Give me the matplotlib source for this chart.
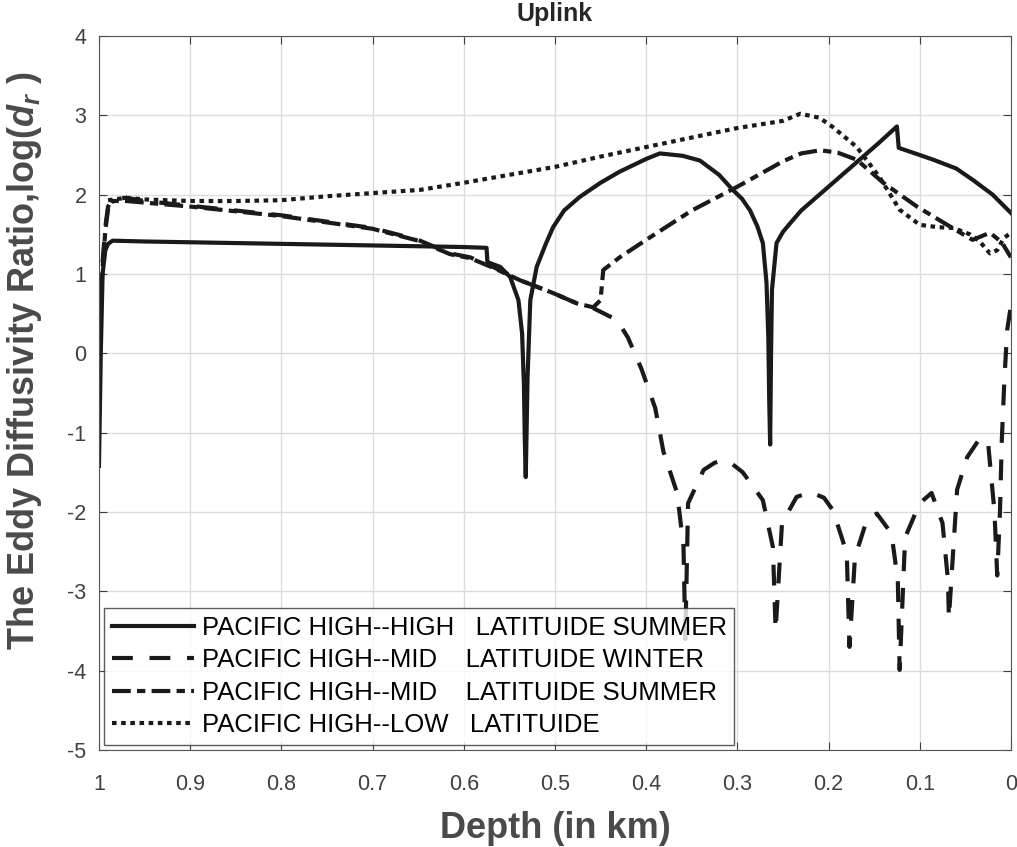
import matplotlib
matplotlib.use("Agg")
import matplotlib.pyplot as plt

plt.rcParams['font.family'] = ['Liberation Sans', 'DejaVu Sans']
plt.rcParams['mathtext.fontset'] = 'custom'
plt.rcParams['mathtext.it'] = 'Liberation Sans:bold:italic'
plt.rcParams['mathtext.rm'] = 'Liberation Sans:bold'
plt.rcParams['axes.unicode_minus'] = False

# PACIFIC HIGH--HIGH LATITUIDE SUMMER (solid)
hh_x = [1.0, 0.998, 0.996, 0.993, 0.99, 0.985, 0.95, 0.9, 0.8, 0.7, 0.6, 0.575,
        0.574, 0.56, 0.549, 0.54, 0.536, 0.534, 0.533, 0.532, 0.530, 0.527, 0.52,
        0.51, 0.502, 0.49, 0.473, 0.45, 0.429, 0.4, 0.385, 0.36, 0.341, 0.32,
        0.305, 0.295, 0.286, 0.278, 0.272, 0.268, 0.266, 0.265, 0.264, 0.263,
        0.262, 0.257, 0.25, 0.242, 0.23, 0.213, 0.19, 0.166, 0.145, 0.125,
        0.123, 0.1, 0.085, 0.06, 0.041, 0.02, 0.0]
hh_y = [-1.42, 0.0, 1.0, 1.3, 1.38, 1.42, 1.41, 1.40, 1.38, 1.36, 1.34, 1.33,
        1.15, 1.09, 0.96, 0.67, 0.25, -0.4, -1.1, -1.56, -0.3, 0.67, 1.09,
        1.38, 1.59, 1.8, 1.97, 2.15, 2.29, 2.45, 2.52, 2.49, 2.43, 2.25,
        2.06, 1.95, 1.8, 1.6, 1.39, 0.89, 0.2, -0.6, -1.15, 0.0,
        0.8, 1.39, 1.53, 1.64, 1.8, 1.97, 2.2, 2.44, 2.65, 2.86,
        2.59, 2.5, 2.44, 2.33, 2.18, 2.0, 1.77]

# PACIFIC HIGH--MID LATITUIDE WINTER (dashed)
mw_x = [1.0, 0.997, 0.993, 0.99, 0.985, 0.97, 0.95, 0.9, 0.8, 0.7, 0.65, 0.615,
        0.593, 0.568, 0.538, 0.502, 0.476, 0.458, 0.432, 0.42, 0.405, 0.39,
        0.381, 0.366, 0.359, 0.357, 0.354, 0.337, 0.325, 0.316, 0.305, 0.294,
        0.272, 0.261, 0.258, 0.251, 0.235, 0.22, 0.205, 0.195, 0.18, 0.177,
        0.171, 0.158, 0.147, 0.131, 0.124, 0.122, 0.116, 0.1, 0.087, 0.075,
        0.069, 0.068, 0.059, 0.048, 0.034, 0.025, 0.018, 0.015, 0.012, 0.01,
        0.007, 0.004, 0.0]
mw_y = [0.2, 1.0, 1.6, 1.85, 1.95, 1.96, 1.92, 1.86, 1.74, 1.58, 1.43, 1.26,
        1.21, 1.09, 0.92, 0.76, 0.63, 0.57, 0.42, 0.2, -0.2, -0.69,
        -1.24, -1.76, -2.44, -3.6, -1.89, -1.47, -1.38, -1.35, -1.4, -1.5,
        -1.85, -2.44, -3.49, -2.14, -1.81, -1.75, -1.82, -1.98, -2.52, -3.7,
        -2.57, -2.1, -2.02, -2.27, -2.86, -3.99, -2.32, -1.89, -1.76, -2.14,
        -2.86, -3.34, -1.72, -1.31, -1.07, -1.13, -2.0, -2.8, -2.0, -1.1,
        -0.3, 0.3, 0.6]

# PACIFIC HIGH--MID LATITUIDE SUMMER (dash-dot)
ms_x = [1.0, 0.997, 0.993, 0.99, 0.985, 0.97, 0.95, 0.9, 0.8, 0.7, 0.65, 0.615,
        0.593, 0.568, 0.538, 0.502, 0.476, 0.458, 0.45, 0.447, 0.429, 0.4,
        0.35, 0.3, 0.25, 0.23, 0.209, 0.19, 0.169, 0.14, 0.103, 0.067, 0.042,
        0.023, 0.01, 0.0]
ms_y = [0.1, 0.9, 1.55, 1.82, 1.92, 1.92, 1.9, 1.85, 1.73, 1.57, 1.42, 1.25,
        1.2, 1.08, 0.92, 0.76, 0.63, 0.58, 0.67, 1.05, 1.21, 1.43,
        1.8, 2.1, 2.42, 2.52, 2.56, 2.53, 2.44, 2.15, 1.85, 1.6, 1.43,
        1.52, 1.4, 1.21]

# PACIFIC HIGH--LOW LATITUIDE (dotted)
lo_x = [0.99, 0.97, 0.95, 0.9, 0.85, 0.8, 0.75, 0.7, 0.648, 0.6, 0.55, 0.5,
        0.45, 0.4, 0.35, 0.3, 0.25, 0.231, 0.21, 0.195, 0.169, 0.144, 0.122,
        0.1, 0.08, 0.063, 0.045, 0.035, 0.023, 0.015, 0.008, 0.0]
lo_y = [1.93, 1.96, 1.94, 1.92, 1.92, 1.93, 1.98, 2.02, 2.06, 2.15, 2.25, 2.35,
        2.48, 2.6, 2.72, 2.84, 2.93, 3.02, 2.97, 2.85, 2.6, 2.22, 1.81,
        1.62, 1.59, 1.58, 1.5, 1.42, 1.26, 1.3, 1.45, 1.52]

labels = ['PACIFIC HIGH--HIGH   LATITUIDE SUMMER',
          'PACIFIC HIGH--MID    LATITUIDE WINTER',
          'PACIFIC HIGH--MID    LATITUIDE SUMMER',
          'PACIFIC HIGH--LOW   LATITUIDE']

lc = '#1a1a1a'
fig = plt.figure(figsize=(10.17, 8.47), dpi=100)
ax = fig.add_axes([0.0973, 0.1145, 0.8967, 0.843])

ax.plot(hh_x, hh_y, color=lc, lw=3, ls='-', label=labels[0])
ax.plot(mw_x, mw_y, color=lc, lw=3, ls=(0, (5, 4)), label=labels[1])
ax.plot(ms_x, ms_y, color=lc, lw=3, ls=(0, (4.5, 1.5, 2, 1.5)), label=labels[2])
ax.plot(lo_x, lo_y, color=lc, lw=3, ls=(0, (1.1, 1.1)), label=labels[3])

ax.set_xlim(1, 0)
ax.set_ylim(-5, 4)
ax.set_xticks([1, 0.9, 0.8, 0.7, 0.6, 0.5, 0.4, 0.3, 0.2, 0.1, 0])
ax.set_xticklabels(['1', '0.9', '0.8', '0.7', '0.6', '0.5', '0.4', '0.3', '0.2', '0.1', '0'])
ax.set_yticks(range(-5, 5))
ax.grid(True, color='#dcdcdc', lw=1)
ax.tick_params(direction='in', top=True, right=True, labelsize=15.5,
               colors='#404040', length=6)
ax.tick_params(axis='x', pad=17)
ax.tick_params(axis='y', pad=9)
for s in ax.spines.values():
    s.set_color('#555555')

ax.set_title('Uplink', fontsize=18, fontweight='bold', color='#262626', pad=11)
ax.set_xlabel('Depth (in km)', fontsize=26, fontweight='bold', color='#4a4a4a',
              labelpad=12)
ax.set_ylabel(r'The Eddy Diffusivity Ratio,log($d_r$ )', fontsize=26,
              fontweight='bold', color='#4a4a4a')
ax.yaxis.set_label_coords(-0.06, 0.545)

leg = ax.legend(loc='lower left', fontsize=18.5, frameon=True, fancybox=False,
                edgecolor='#333333', handlelength=3.2, handletextpad=0.3,
                borderaxespad=0.2, labelspacing=0.33, borderpad=0.3)
leg.get_frame().set_linewidth(1)

fig.savefig('out.png', dpi=100)
